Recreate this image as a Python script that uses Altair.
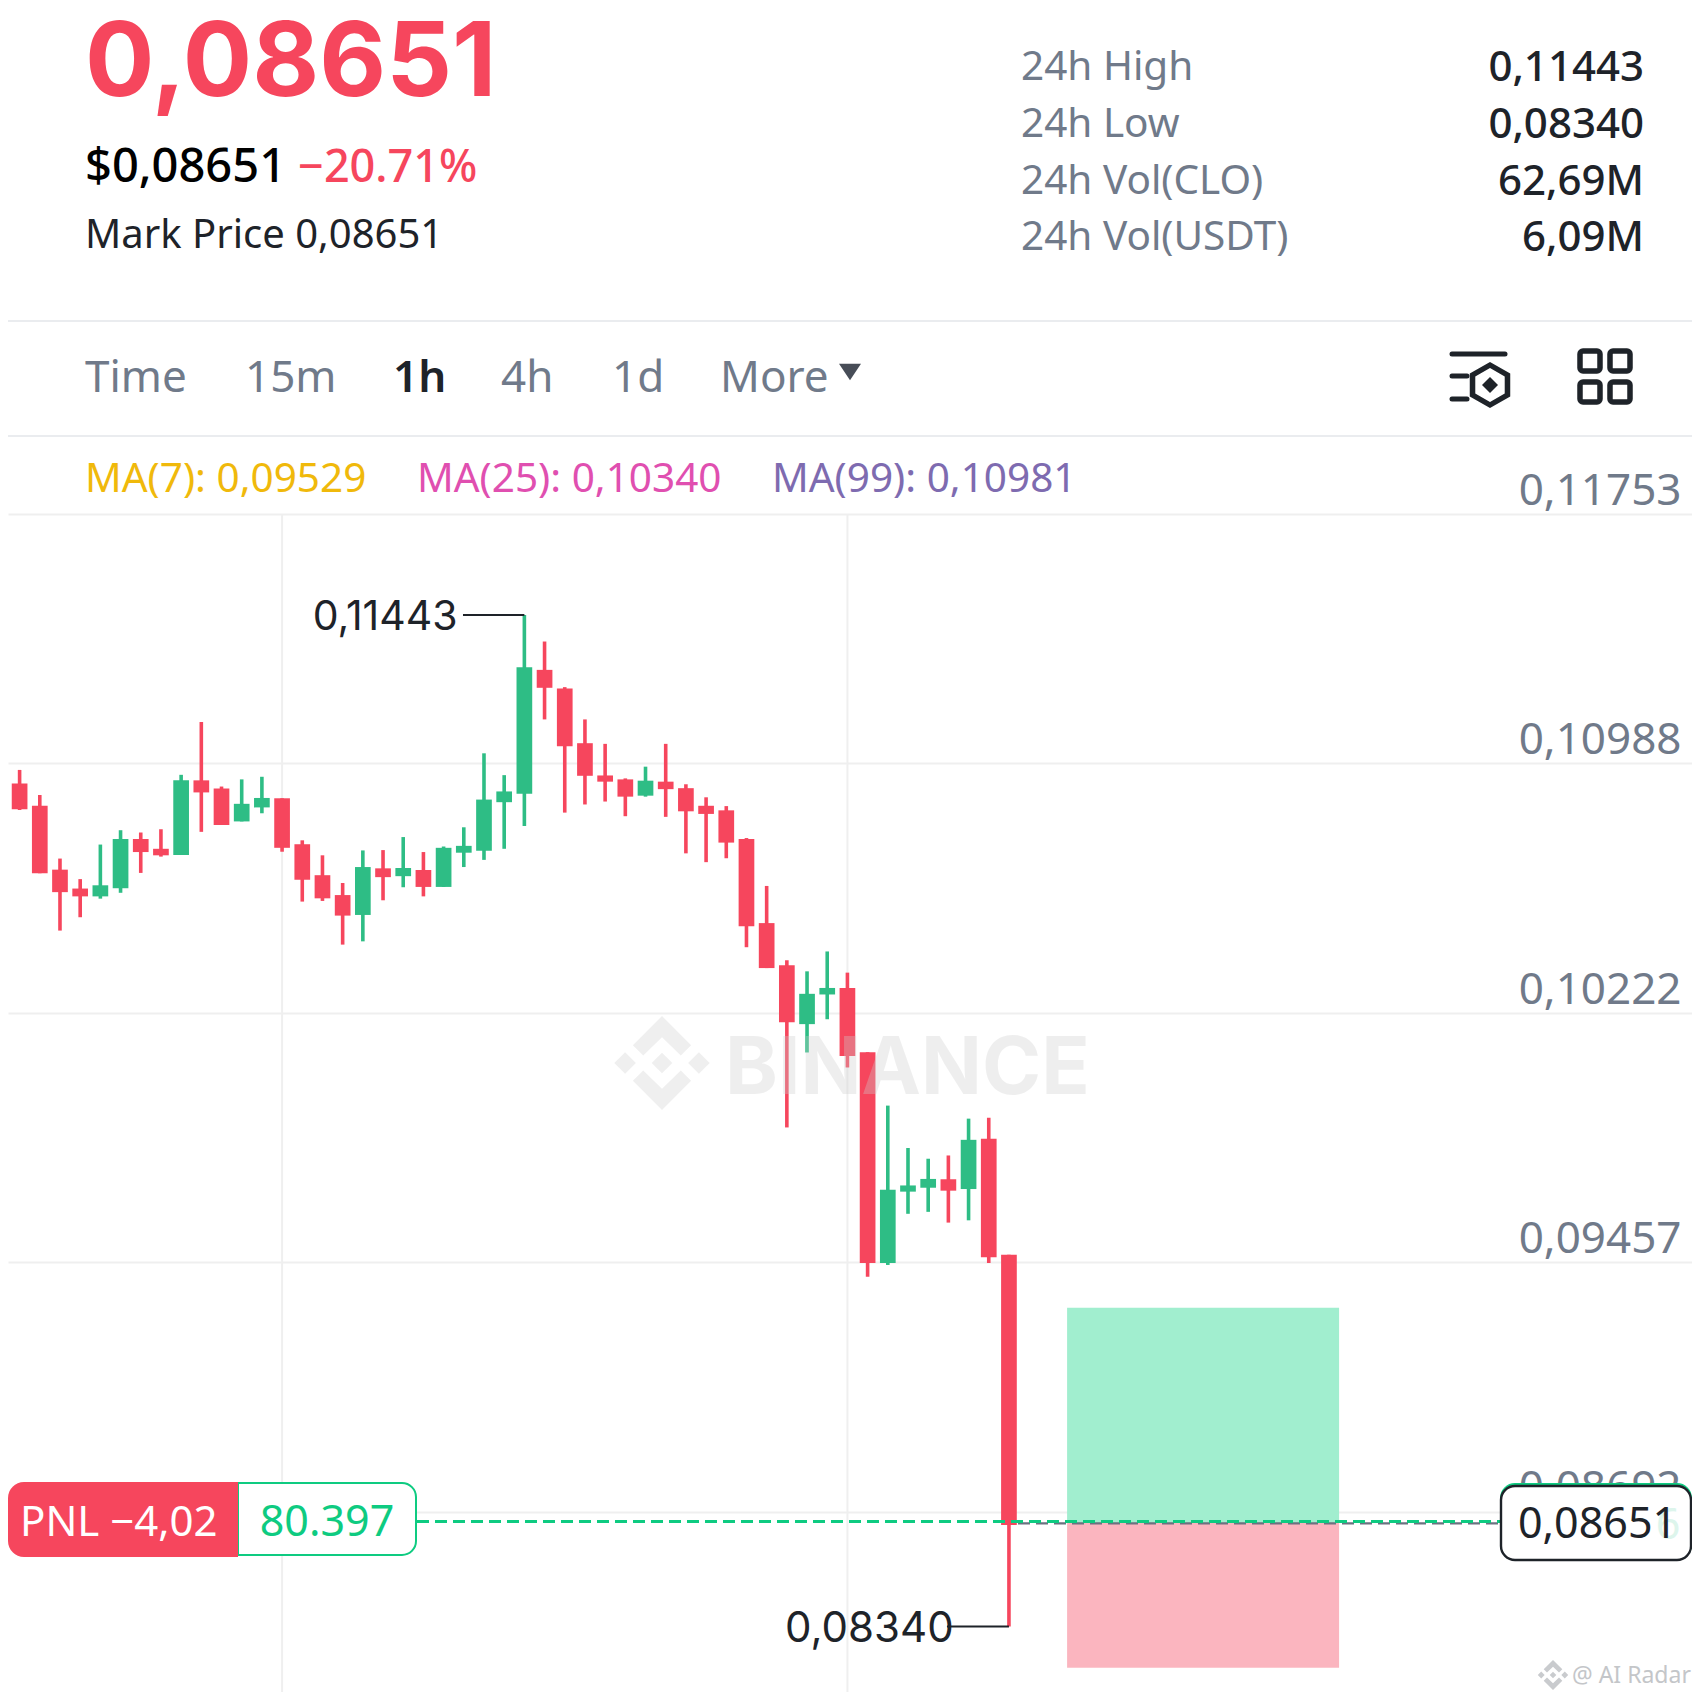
import altair as alt
import pandas as pd

# ---------- candle values ----------
opens = [.10926,.10858,.10662,.10604,.10580,.10605,.10756,.10726,.10707,.10936,
         .10911,.10810,.10853,.10881,.10740,.10645,.10584,.10523,.10666,.10642,
         .10661,.10609,.10714,.10720,.10869,.10895,.11275,.11218,.11050,.10951,
         .10939,.10889,.10932,.10912,.10858,.10844,.10756,.10498,.10369,.10188,
         .10279,.10299,.10102,.09455,.09674,.09686,.09712,.09682,.09836,.09480]
closes = [.10847,.10651,.10593,.10580,.10614,.10756,.10716,.10706,.10936,.10899,
          .10799,.10864,.10882,.10729,.10631,.10574,.10521,.10670,.10639,.10667,
          .10609,.10729,.10735,.10877,.10902,.11283,.11220,.11041,.10950,.10932,
          .10886,.10935,.10909,.10841,.10833,.10745,.10488,.10360,.10194,.10281,
          .10299,.10090,.09455,.09680,.09693,.09713,.09677,.09833,.09473,.08651]
highs = [.10968,.10891,.10696,.10633,.10739,.10783,.10776,.10786,.10953,.11115,
         .10917,.10939,.10947,.10881,.10752,.10706,.10621,.10721,.10722,.10762,
         .10716,.10733,.10792,.11019,.10952,.11443,.11362,.11222,.11123,.11048,
         .10942,.10978,.11048,.10924,.10884,.10857,.10759,.10612,.10384,.10350,
         .10411,.10346,.10102,.09938,.09808,.09775,.09785,.09898,.09901,.09480]
lows = [.10845,.10651,.10475,.10516,.10573,.10591,.10652,.10702,.10707,.10778,
        .10799,.10810,.10835,.10717,.10564,.10566,.10432,.10442,.10568,.10608,
        .10580,.10609,.10670,.10692,.10726,.10796,.11123,.10837,.10862,.10871,
        .10826,.10886,.10824,.10712,.10685,.10697,.10424,.10360,.09871,.10101,
        .10203,.10055,.09413,.09449,.09606,.09612,.09579,.09586,.09455,.08340]

price_ticks = [.11753, .10988, .10222, .09457, .08692]
time_grid = [13, 41]

target_x = [51.88, 65.35]
target_top, target_mid, target_bottom = .09318, .08657, .08213
position_line = .08662
mark_line = .08656
high_label, low_label = "0,11443", "0,08340"

header_left = ["$0,08651", "Mark Price 0,08651"]
stats_names = ["24h High", "24h Low", "24h Vol(CLO)", "24h Vol(USDT)"]
stats_values = ["0,11443", "0,08340", "62,69M", "6,09M"]
tabs = ["Time", "15m", "1h", "4h", "1d", "More"]
mas = ["MA(7): 0,09529", "MA(25): 0,10340", "MA(99): 0,10981"]

RED, GREEN, LIVE = "#F6465D", "#2EBD85", "#0ECB81"
GRAY, INK, LINE = "#707A8A", "#1E2329", "#EFEFEF"
FONT = "Noto Sans"
NOTE_FONT = "Inter"
W, H = 1684, 1684

xscale = alt.Scale(domain=[-0.5746, 82.83], nice=False, zero=False, padding=0)
yscale = alt.Scale(domain=[.081387, .133059], nice=False, zero=False, padding=0)
yaxis = alt.Axis(values=price_ticks, orient="right", title=None, domain=False, ticks=False,
                 grid=True, gridColor=LINE, gridWidth=2, labelColor=GRAY, labelFont=FONT,
                 labelFontSize=44, labelAlign="right", labelBaseline="alphabetic",
                 labelPadding=-11, labelOffset=-10, labelOverlap=False, labelFlush=False,
                 labelBound=False, labelLimit=500,
                 labelExpr="replace(format(datum.value,'.5f'),'.',',')")

candles = pd.DataFrame({"i": range(len(opens)), "o": opens, "c": closes, "h": highs, "l": lows})
candles["dir"] = ["up" if c >= o else "down" for o, c in zip(opens, closes)]
colour = alt.Color("dir:N", scale=alt.Scale(domain=["up", "down"], range=[GREEN, RED]), legend=None)
one = pd.DataFrame({"a": [0]})


def px(v):
    return alt.value(v - 8)


def text(s, x, y, size, color=INK, align="left", weight=400, font=FONT, **kw):
    return alt.Chart(one).mark_text(text=s, font=font, fontSize=size, color=color, align=align,
                                    baseline="middle", fontWeight=weight, **kw).encode(x=px(x), y=px(y))


def box(x0, x1, y0, y1, **kw):
    return alt.Chart(one).mark_rect(**kw).encode(x=px(x0), x2=px(x1), y=px(y0), y2=px(y1))


def hline(x0, x1, y, w=5, c=INK):
    return alt.Chart(one).mark_rule(stroke=c, strokeWidth=w, strokeCap="round").encode(
        x=px(x0), x2=px(x1), y=px(y))


def glyph(path, x, y, r, c, **kw):
    return alt.Chart(one).mark_point(shape=path, filled=True, fill=c, opacity=kw.pop("opacity", 1),
                                     size=4 * r * r, strokeWidth=0, **kw).encode(x=px(x), y=px(y))


LOGO = ("M0,-1L.62,-.38L.40,-.16L0,-.55L-.40,-.16L-.62,-.38Z"
        "M0,1L.62,.38L.40,.16L0,.55L-.40,.16L-.62,.38Z"
        "M0,-.22L.22,0L0,.22L-.22,0Z"
        "M-.785,-.23L-.555,0L-.785,.23L-1.015,0Z"
        "M.785,-.23L1.015,0L.785,.23L.555,0Z")
HEX = "M0,-1L.88,-.5L.88,.5L0,1L-.88,.5L-.88,-.5ZM0,-.74L-.64,-.37L-.64,.37L0,.74L.64,.37L.64,-.37Z"
DIAMOND = "M0,-1L1,0L0,1L-1,0Z"
TRI = "M-1,-.75L1,-.75L0,.75Z"

layers = []

# vertical grid (starts at the top rule of the chart pane)
layers.append(alt.Chart(pd.DataFrame({"g": time_grid})).mark_rule(stroke=LINE, strokeWidth=2).encode(
    x=alt.X("g:Q", scale=xscale, axis=None), y=px(515), y2=px(1692)))

# wicks and bodies
layers.append(alt.Chart(candles).mark_rule(strokeWidth=3.6).encode(
    x=alt.X("i:Q", scale=xscale, axis=None),
    y=alt.Y("l:Q", scale=yscale, axis=yaxis), y2="h:Q", color=colour))
layers.append(alt.Chart(candles).mark_bar(size=15.7).encode(
    x=alt.X("i:Q", scale=xscale, axis=None),
    y=alt.Y("o:Q", scale=yscale), y2="c:Q", color=colour))

# high / low annotations
notes = pd.DataFrame({"x0": [21.96, 45.93], "x1": [25, 49], "p": [.11443, .08340]})
layers.append(alt.Chart(notes).mark_rule(stroke=INK, strokeWidth=2).encode(
    x=alt.X("x0:Q", scale=xscale, axis=None), x2="x1:Q", y=alt.Y("p:Q", scale=yscale)))
note_txt = pd.DataFrame({"x": [21.69, 46.26], "p": [.11443, .08340], "t": [high_label, low_label],
                         "s": [41, 42]})
layers.append(alt.Chart(note_txt).mark_text(font=NOTE_FONT, color=INK, align="right",
                                            baseline="middle", dy=3).encode(
    x=alt.X("x:Q", scale=xscale, axis=None), y=alt.Y("p:Q", scale=yscale), text="t:N",
    size=alt.Size("s:Q", scale=None, legend=None)))

# target / stop boxes
for top, bottom, fill in [(target_top, target_mid, "#9CEDCC"), (target_mid, target_bottom, "#FBB1BC")]:
    tb = pd.DataFrame({"x0": [target_x[0]], "x1": [target_x[1]], "a": [top], "b": [bottom]})
    layers.append(alt.Chart(tb).mark_rect(opacity=.95, fill=fill).encode(
        x=alt.X("x0:Q", scale=xscale, axis=None), x2="x1:Q",
        y=alt.Y("a:Q", scale=yscale), y2="b:Q"))

# dashed price lines
layers.append(alt.Chart(pd.DataFrame({"p": [mark_line]})).mark_rule(
    stroke="#6B7280", strokeWidth=2.4, strokeDash=[12, 6]).encode(
    x=px(1018), x2=px(1500), y=alt.Y("p:Q", scale=yscale)))
layers.append(alt.Chart(pd.DataFrame({"p": [position_line]})).mark_rule(
    stroke=LIVE, strokeWidth=3, strokeDash=[12, 6]).encode(
    x=px(417), x2=px(1500), y=alt.Y("p:Q", scale=yscale)))

# PNL tag
layers.append(box(238, 416, 1483, 1555, fill="white", stroke=LIVE, strokeWidth=2,
                  cornerRadiusTopRight=14, cornerRadiusBottomRight=14))
layers.append(box(8, 238, 1482, 1557, fill=RED, cornerRadiusTopLeft=16, cornerRadiusBottomLeft=16))
layers.append(text("PNL −4,02", 20, 1523, 42, "white"))
layers.append(text("80.397", 327, 1523, 43, LIVE, "center"))

# current price tag
layers.append(box(1501, 1691, 1484, 1559, fill="white", stroke=LIVE, strokeWidth=2, cornerRadius=14))
layers.append(box(1501, 1691, 1486, 1560, fill="white", stroke=INK, strokeWidth=2.4, cornerRadius=14))
layers.append(text("6", 1668, 1526, 43, "#DDF5EC", "center"))
layers.append(text("0,08651", 1518, 1525, 43, INK))

# watermarks (translucent, on top of the candles)
layers.append(glyph(LOGO, 662, 1063, 47, "#CECECE", opacity=.33))
layers.append(text("BINANCE", 725, 1070, 80, "#CECECE", weight=700, font=NOTE_FONT, opacity=.33))
layers.append(glyph(LOGO, 1553, 1675, 15, "#C9CBCE"))
layers.append(text("@ AI Radar", 1572, 1676, 23, "#C4C6C9"))

# header
layers.append(text("0,08651", 85, 65, 103, RED, weight=700, font=NOTE_FONT))
layers.append(text(header_left[0], 85, 168, 47, "#000000", weight=500))
layers.append(text("−20.71%", 298, 168, 45, RED, weight=500))
layers.append(text(header_left[1], 85, 236, 40, INK))
for n, v, y in zip(stats_names, stats_values, [68, 125, 182, 238]):
    layers.append(text(n, 1021, y, 40.5, GRAY))
    layers.append(text(v, 1644, y, 42, INK, "right", 500))
layers.append(hline(8, 1692, 321, 2, "#EAECEF"))
layers.append(hline(8, 1692, 436, 2, "#EAECEF"))

# tabs
for t, x in zip(tabs, [85, 245, 393, 501, 612, 720]):
    active = t == "1h"
    layers.append(text(t, x, 379, 44, INK if active else GRAY, weight=600 if active else 400))
layers.append(glyph(TRI, 850, 372, 11, "#474D57"))

# toolbar icons
layers.append(hline(1452, 1505, 354))
layers.append(hline(1452, 1467, 376))
layers.append(hline(1452, 1467, 399))
layers.append(glyph(HEX, 1490, 385, 23, INK))
layers.append(glyph(DIAMOND, 1490, 385, 8, INK))
for x0, x1 in [(1580, 1600), (1610, 1630)]:
    for y0, y1 in [(351, 371), (382, 402)]:
        layers.append(box(x0, x1, y0, y1, fill="white", stroke=INK, strokeWidth=5.5, cornerRadius=3))

# moving averages
for t, x, c in zip(mas, [85, 417, 772], ["#F0B90B", "#E04FB0", "#7E6BB0"]):
    layers.append(text(t, x, 480, 40.5, c))

chart = alt.layer(*layers).properties(
    width=W, height=H, padding=0, background="white",
    autosize=alt.AutoSizeParams(type="none")
).configure_view(stroke=None)

chart.save("out.html", embed_options={"renderer": "svg", "actions": False})
